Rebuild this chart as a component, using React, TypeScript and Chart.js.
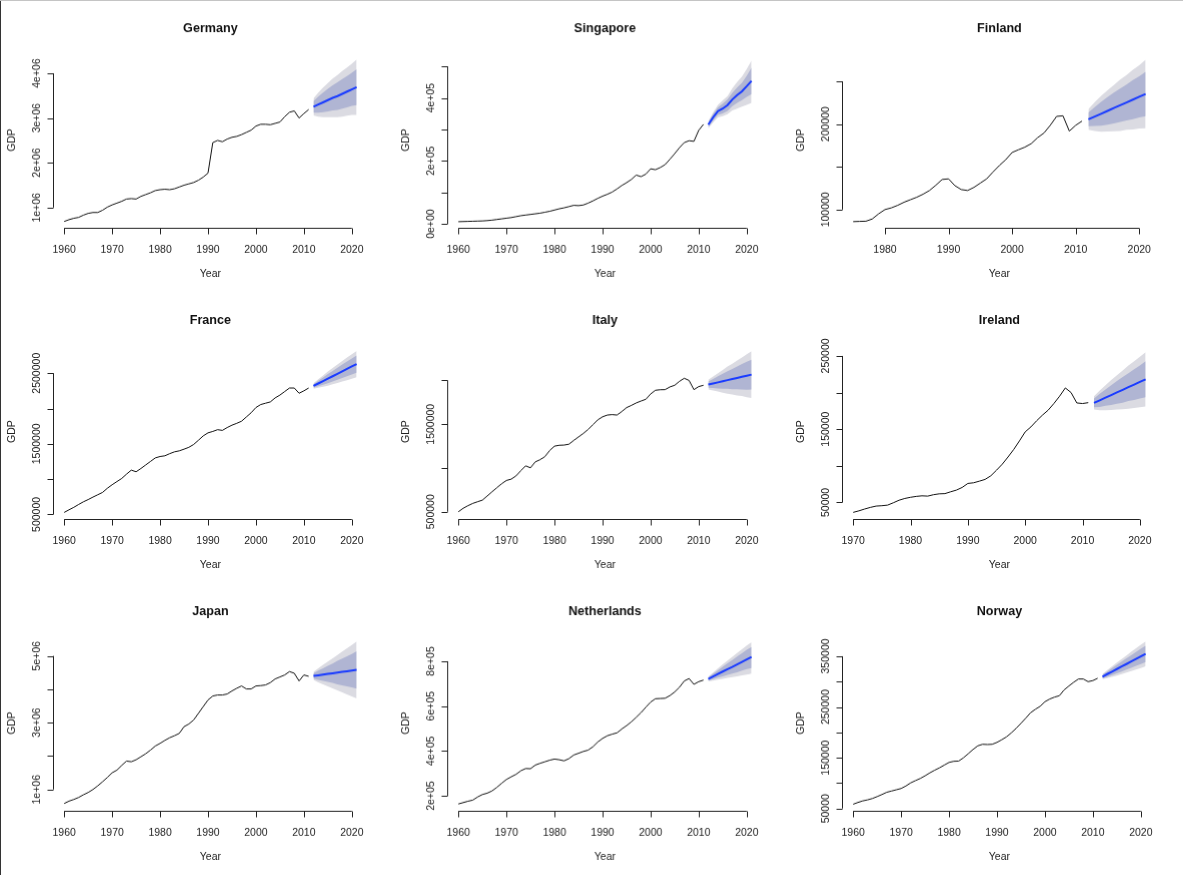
import { useEffect, useRef } from "react";
import { Chart, registerables } from "chart.js";
import type { ChartConfiguration, Plugin } from "chart.js";

Chart.register(...registerables);

// years
const YEARS = [
  1960, 1961, 1962, 1963, 1964, 1965, 1966, 1967, 1968, 1969,
  1970, 1971, 1972, 1973, 1974, 1975, 1976, 1977, 1978, 1979,
  1980, 1981, 1982, 1983, 1984, 1985, 1986, 1987, 1988, 1989,
  1990, 1991, 1992, 1993, 1994, 1995, 1996, 1997, 1998, 1999,
  2000, 2001, 2002, 2003, 2004, 2005, 2006, 2007, 2008, 2009,
  2010, 2011,
];
const YEARS_1970 = YEARS.slice(10);
const YEARS_1975 = YEARS.slice(15);
const FC_YEARS = [2012, 2013, 2014, 2015, 2016, 2017, 2018, 2019, 2020, 2021];

const X_TICKS_1960 = [1960, 1970, 1980, 1990, 2000, 2010, 2020];
const X_TICKS_1970 = [1970, 1980, 1990, 2000, 2010, 2020];
const X_TICKS_1980 = [1980, 1990, 2000, 2010, 2020];

// Germany
const germanyGdp = [
  690000, 730000, 760000, 780000, 830000, 870000, 890000, 890000, 940000, 1010000,
  1060000, 1100000, 1140000, 1190000, 1200000, 1190000, 1250000, 1290000, 1330000, 1380000,
  1400000, 1410000, 1400000, 1420000, 1460000, 1500000, 1530000, 1560000, 1610000, 1680000,
  1770000, 2450000, 2500000, 2470000, 2530000, 2570000, 2590000, 2630000, 2680000, 2730000,
  2820000, 2860000, 2860000, 2850000, 2880000, 2910000, 3030000, 3130000, 3160000, 3000000,
  3100000, 3190000,
];
const germanyMean = [3250000, 3300000, 3350000, 3400000, 3450000, 3490000, 3540000, 3590000, 3640000, 3690000];
const germanyLo80 = [3120000, 3120000, 3130000, 3150000, 3170000, 3180000, 3210000, 3240000, 3270000, 3290000];
const germanyHi80 = [3380000, 3480000, 3570000, 3650000, 3730000, 3800000, 3870000, 3940000, 4010000, 4090000];
const germanyLo95 = [3060000, 3030000, 3020000, 3020000, 3020000, 3020000, 3030000, 3050000, 3070000, 3070000];
const germanyHi95 = [3440000, 3570000, 3680000, 3780000, 3880000, 3960000, 4050000, 4130000, 4210000, 4310000];
const germanyYTicks = [1000000, 2000000, 3000000, 4000000];
const germanyYLabels = ["1e+06", "2e+06", "3e+06", "4e+06"];

// Singapore
const singaporeGdp = [
  7000, 7500, 8000, 8500, 9000, 9500, 10500, 12000, 14000, 16000,
  18000, 20000, 23000, 26000, 28000, 30000, 32000, 34000, 37000, 40000,
  44000, 48000, 51000, 55000, 59000, 58000, 60000, 66000, 73000, 81000,
  88000, 94000, 101000, 111000, 122000, 131000, 141000, 155000, 150000, 158000,
  175000, 172000, 179000, 188000, 205000, 223000, 242000, 258000, 264000, 262000,
  297000, 316000,
];
const singaporeMean = [315000, 338000, 358000, 366000, 377000, 395000, 409000, 421000, 437000, 454000];
const singaporeLo80 = [308000, 328000, 346000, 351000, 359000, 374000, 384000, 393000, 403000, 412000];
const singaporeHi80 = [322000, 348000, 370000, 382000, 395000, 416000, 433000, 448000, 470000, 496000];
const singaporeLo95 = [303000, 322000, 338000, 342000, 348000, 360000, 366000, 372000, 378000, 384000];
const singaporeHi95 = [326000, 354000, 378000, 392000, 406000, 430000, 450000, 468000, 492000, 519000];
const singaporeYTicks = [0, 100000, 200000, 300000, 400000, 500000];
const singaporeYLabels = ["0e+00", "", "2e+05", "", "4e+05", ""];

// Finland
const finlandGdp = [
  85900, 86200, 86400, 89000, 95000,
  100000, 102000, 105000, 108600, 111500, 114400, 118000, 122300, 128500, 135200,
  135900, 128000, 123400, 122300, 126000, 131000, 135900, 144000, 151600, 158300,
  166800, 170000, 173000, 177000, 184000, 189500, 198500, 209000, 209700, 191800,
  198500, 203500,
];
const finlandMean = [205500, 208800, 212100, 215400, 218700, 222000, 225300, 228600, 231900, 235200];
const finlandLo80 = [197500, 197800, 198100, 199400, 200700, 202500, 204300, 205600, 207900, 209200];
const finlandHi80 = [213500, 219800, 226100, 231400, 236700, 241500, 246300, 251600, 255900, 261200];
const finlandLo95 = [193500, 191800, 191100, 191400, 191700, 192000, 193300, 193600, 194900, 195200];
const finlandHi95 = [217500, 225800, 233100, 239400, 245700, 252000, 257300, 263600, 268900, 275200];
const finlandYTicks = [100000, 150000, 200000, 250000];
const finlandYLabels = ["100000", "", "200000", ""];

// France
const franceGdp = [
  528000, 565000, 600000, 640000, 678000, 710000, 745000, 778000, 811000, 870000,
  920000, 965000, 1009000, 1070000, 1127000, 1104000, 1150000, 1200000, 1250000, 1300000,
  1320000, 1330000, 1360000, 1386000, 1400000, 1424000, 1450000, 1490000, 1550000, 1612000,
  1655000, 1675000, 1700000, 1690000, 1730000, 1764000, 1790000, 1820000, 1880000, 1940000,
  2014000, 2056000, 2075000, 2093000, 2150000, 2190000, 2240000, 2290000, 2290000, 2216000,
  2250000, 2290000,
];
const franceMean = [2319000, 2354000, 2388000, 2423000, 2457000, 2492000, 2527000, 2561000, 2596000, 2630000];
const franceLo80 = [2293000, 2314000, 2336000, 2358000, 2382000, 2407000, 2432000, 2457000, 2483000, 2508000];
const franceHi80 = [2345000, 2394000, 2440000, 2488000, 2532000, 2577000, 2622000, 2665000, 2709000, 2752000];
const franceLo95 = [2279000, 2294000, 2308000, 2323000, 2342000, 2362000, 2382000, 2401000, 2423000, 2444000];
const franceHi95 = [2359000, 2414000, 2468000, 2523000, 2572000, 2622000, 2672000, 2721000, 2769000, 2816000];
const franceYTicks = [500000, 1000000, 1500000, 2000000, 2500000];
const franceYLabels = ["500000", "", "1500000", "", "2500000"];

// Italy
const italyGdp = [
  500000, 540000, 570000, 596000, 615000, 633000, 680000, 728000, 775000, 820000,
  858000, 873000, 910000, 970000, 1025000, 1002000, 1070000, 1095000, 1130000, 1200000,
  1250000, 1260000, 1262000, 1272000, 1315000, 1355000, 1395000, 1440000, 1495000, 1550000,
  1585000, 1605000, 1610000, 1605000, 1645000, 1690000, 1715000, 1743000, 1765000, 1785000,
  1846000, 1888000, 1894000, 1895000, 1926000, 1945000, 1990000, 2025000, 2000000, 1895000,
  1930000, 1945000,
];
const italyMean = [1953000, 1966000, 1978000, 1991000, 2004000, 2016000, 2029000, 2042000, 2054000, 2067000];
const italyLo80 = [1917000, 1914000, 1909000, 1906000, 1904000, 1901000, 1899000, 1897000, 1894000, 1896000];
const italyHi80 = [1989000, 2018000, 2047000, 2076000, 2104000, 2131000, 2159000, 2187000, 2214000, 2238000];
const italyLo95 = [1898000, 1886000, 1873000, 1861000, 1849000, 1841000, 1829000, 1822000, 1809000, 1800000];
const italyHi95 = [2008000, 2046000, 2083000, 2121000, 2159000, 2191000, 2229000, 2262000, 2299000, 2334000];
const italyYTicks = [500000, 1000000, 1500000, 2000000];
const italyYLabels = ["500000", "", "1500000", ""];

// Ireland
const irelandGdp = [
  36400, 38500, 41000, 43200, 45000, 45500, 46300, 49500, 53000, 55400,
  57000, 58200, 59000, 58600, 60500, 61700, 62000, 64500, 66800, 70400,
  75900, 76800, 79000, 81400, 86300, 94000, 102200, 112000, 122300, 134000,
  146300, 153100, 161500, 169100, 175900, 185000, 195000, 206300, 200000, 185800,
  185000, 186200,
];
const irelandMean = [185800, 189400, 193000, 196600, 200200, 203700, 207300, 210900, 214500, 218100];
const irelandLo80 = [179800, 180400, 182000, 183100, 184700, 186200, 188300, 189900, 192000, 193600];
const irelandHi80 = [191800, 198400, 204000, 210100, 215700, 221200, 226300, 231900, 237000, 242600];
const irelandLo95 = [176800, 175900, 176000, 176100, 176700, 177200, 177800, 178900, 180000, 181100];
const irelandHi95 = [194800, 202900, 210000, 217100, 223700, 230200, 236800, 242900, 249000, 255100];
const irelandYTicks = [50000, 100000, 150000, 200000, 250000];
const irelandYLabels = ["50000", "", "150000", "", "250000"];

// Japan
const japanGdp = [
  580000, 650000, 700000, 760000, 840000, 910000, 1000000, 1110000, 1230000, 1360000,
  1500000, 1580000, 1720000, 1850000, 1830000, 1890000, 1980000, 2070000, 2180000, 2300000,
  2380000, 2470000, 2550000, 2610000, 2680000, 2880000, 2960000, 3080000, 3280000, 3480000,
  3680000, 3800000, 3830000, 3830000, 3860000, 3950000, 4030000, 4100000, 4010000, 4010000,
  4100000, 4110000, 4130000, 4200000, 4310000, 4370000, 4430000, 4530000, 4480000, 4250000,
  4430000, 4390000,
];
const japanMean = [4400000, 4420000, 4440000, 4460000, 4480000, 4500000, 4520000, 4540000, 4560000, 4580000];
const japanLo80 = [4320000, 4280000, 4250000, 4220000, 4190000, 4150000, 4120000, 4090000, 4060000, 4020000];
const japanHi80 = [4480000, 4560000, 4630000, 4700000, 4770000, 4850000, 4920000, 4990000, 5060000, 5140000];
const japanLo95 = [4280000, 4210000, 4150000, 4090000, 4030000, 3970000, 3910000, 3850000, 3790000, 3730000];
const japanHi95 = [4520000, 4630000, 4730000, 4830000, 4930000, 5030000, 5130000, 5230000, 5330000, 5430000];
const japanYTicks = [1000000, 2000000, 3000000, 4000000, 5000000];
const japanYLabels = ["1e+06", "", "3e+06", "", "5e+06"];

// Netherlands
const netherlandsGdp = [
  164000, 170000, 176000, 181000, 195000, 206000, 212000, 222000, 238000, 256000,
  273000, 285000, 296000, 312000, 322000, 321000, 337000, 345000, 352000, 359000,
  364000, 361000, 356000, 366000, 382000, 390000, 398000, 404000, 419000, 440000,
  456000, 468000, 475000, 481000, 498000, 513000, 530000, 550000, 571000, 595000,
  618000, 633000, 634000, 635000, 647000, 663000, 684000, 712000, 723000, 697000,
  709000, 716000,
];
const netherlandsMean = [721000, 732000, 743000, 754000, 765000, 775000, 786000, 797000, 808000, 819000];
const netherlandsLo80 = [714000, 720000, 727000, 733000, 739000, 745000, 751000, 758000, 765000, 770000];
const netherlandsHi80 = [728000, 744000, 759000, 775000, 791000, 805000, 821000, 836000, 851000, 864000];
const netherlandsLo95 = [710000, 714000, 718000, 722000, 726000, 729000, 733000, 737000, 741000, 745000];
const netherlandsHi95 = [732000, 750000, 768000, 786000, 803000, 820000, 837000, 854000, 870000, 885000];
const netherlandsYTicks = [200000, 400000, 600000, 800000];
const netherlandsYLabels = ["2e+05", "4e+05", "6e+05", "8e+05"];

// Norway
const norwayGdp = [
  58500, 62000, 65000, 67000, 69700, 73500, 77600, 82000, 84500, 87000,
  89500, 94500, 100500, 105000, 109200, 114500, 120300, 125500, 130200, 135500,
  140800, 143000, 143400, 149900, 158000, 166400, 173500, 176500, 176000, 176500,
  180300, 185500, 191300, 199200, 208000, 217800, 228000, 238700, 245400, 251300,
  260400, 265700, 269500, 272200, 283500, 291400, 298700, 305200, 305200, 299900,
  302000, 306600,
];
const norwayMean = [309800, 314800, 319700, 324700, 329700, 334600, 339600, 344600, 349500, 354500];
const norwayLo80 = [306500, 309600, 312800, 316200, 319900, 323500, 327200, 330900, 334500, 338500];
const norwayHi80 = [313100, 320000, 326600, 333200, 339500, 345700, 352000, 358300, 364500, 370500];
const norwayLo95 = [304800, 306800, 309200, 311700, 314700, 317600, 320600, 323600, 326500, 329900];
const norwayHi95 = [314800, 322800, 330200, 337700, 344700, 351600, 358600, 365600, 372500, 379100];
const norwayYTicks = [50000, 100000, 150000, 200000, 250000, 300000, 350000];
const norwayYLabels = ["50000", "", "150000", "", "250000", "", "350000"];

const FONT = '"Liberation Sans", Arial, Helvetica, sans-serif';
const SHADE_95 = "#dbdbe2";
const SHADE_80 = "#b0b5d3";
const MEAN_COLOR = "#1a3cff";
const INK = "#222222";
const LINE = "#111111";

type Panel = {
  title: string;
  years: number[];
  gdp: number[];
  mean: number[];
  lo80: number[];
  hi80: number[];
  lo95: number[];
  hi95: number[];
  xTicks: number[];
  xMin: number;
  xMax: number;
  yTicks: number[];
  yLabels: string[];
  yMin: number;
  yMax: number;
};

const panels: Panel[] = [
  { title: "Germany", years: YEARS, gdp: germanyGdp, mean: germanyMean, lo80: germanyLo80, hi80: germanyHi80, lo95: germanyLo95, hi95: germanyHi95, xTicks: X_TICKS_1960, xMin: 1957.56, xMax: 2023.44, yTicks: germanyYTicks, yLabels: germanyYLabels, yMin: 539000, yMax: 4477000 },
  { title: "Singapore", years: YEARS, gdp: singaporeGdp, mean: singaporeMean, lo80: singaporeLo80, hi80: singaporeHi80, lo95: singaporeLo95, hi95: singaporeHi95, xTicks: X_TICKS_1960, xMin: 1957.56, xMax: 2023.44, yTicks: singaporeYTicks, yLabels: singaporeYLabels, yMin: -13700, yMax: 546000 },
  { title: "Finland", years: YEARS_1975, gdp: finlandGdp, mean: finlandMean, lo80: finlandLo80, hi80: finlandHi80, lo95: finlandLo95, hi95: finlandHi95, xTicks: X_TICKS_1980, xMin: 1973.16, xMax: 2022.84, yTicks: finlandYTicks, yLabels: finlandYLabels, yMin: 78200, yMax: 284400 },
  { title: "France", years: YEARS, gdp: franceGdp, mean: franceMean, lo80: franceLo80, hi80: franceHi80, lo95: franceLo95, hi95: franceHi95, xTicks: X_TICKS_1960, xMin: 1957.56, xMax: 2023.44, yTicks: franceYTicks, yLabels: franceYLabels, yMin: 429000, yMax: 2918000 },
  { title: "Italy", years: YEARS, gdp: italyGdp, mean: italyMean, lo80: italyLo80, hi80: italyHi80, lo95: italyLo95, hi95: italyHi95, xTicks: X_TICKS_1960, xMin: 1957.56, xMax: 2023.44, yTicks: italyYTicks, yLabels: italyYLabels, yMin: 413000, yMax: 2420000 },
  { title: "Ireland", years: YEARS_1970, gdp: irelandGdp, mean: irelandMean, lo80: irelandLo80, hi80: irelandHi80, lo95: irelandLo95, hi95: irelandHi95, xTicks: X_TICKS_1970, xMin: 1967.96, xMax: 2023.04, yTicks: irelandYTicks, yLabels: irelandYLabels, yMin: 26800, yMax: 266700 },
  { title: "Japan", years: YEARS, gdp: japanGdp, mean: japanMean, lo80: japanLo80, hi80: japanHi80, lo95: japanLo95, hi95: japanHi95, xTicks: X_TICKS_1960, xMin: 1957.56, xMax: 2023.44, yTicks: japanYTicks, yLabels: japanYLabels, yMin: 352000, yMax: 5629000 },
  { title: "Netherlands", years: YEARS, gdp: netherlandsGdp, mean: netherlandsMean, lo80: netherlandsLo80, hi80: netherlandsHi80, lo95: netherlandsLo95, hi95: netherlandsHi95, xTicks: X_TICKS_1960, xMin: 1957.56, xMax: 2023.44, yTicks: netherlandsYTicks, yLabels: netherlandsYLabels, yMin: 132100, yMax: 917400 },
  { title: "Norway", years: YEARS, gdp: norwayGdp, mean: norwayMean, lo80: norwayLo80, hi80: norwayHi80, lo95: norwayLo95, hi95: norwayHi95, xTicks: X_TICKS_1960, xMin: 1957.56, xMax: 2023.44, yTicks: norwayYTicks, yLabels: norwayYLabels, yMin: 44900, yMax: 392000 },
];

const pts = (xs: number[], ys: number[]) => xs.map((x, i) => ({ x, y: ys[i] }));

// base-R style axes: line only from first to last tick, ticks outward, rotated y labels
function rAxes(p: Panel): Plugin<"line"> {
  return {
    id: "rAxes",
    afterDraw(chart) {
      const { ctx, chartArea: a } = chart;
      const xs = chart.scales.x;
      const ys = chart.scales.y;
      ctx.save();
      ctx.strokeStyle = INK;
      ctx.fillStyle = INK;
      ctx.lineWidth = 1;

      // x axis
      const by = Math.round(a.bottom) + 0.5;
      const xp = p.xTicks.map((t) => xs.getPixelForValue(t));
      ctx.beginPath();
      ctx.moveTo(xp[0], by);
      ctx.lineTo(xp[xp.length - 1], by);
      xp.forEach((px) => {
        ctx.moveTo(Math.round(px) + 0.5, by);
        ctx.lineTo(Math.round(px) + 0.5, by + 6);
      });
      ctx.stroke();
      ctx.font = `10.5px ${FONT}`;
      ctx.textAlign = "center";
      ctx.textBaseline = "alphabetic";
      p.xTicks.forEach((t, i) => ctx.fillText(String(t), xp[i], a.bottom + 24.5));
      ctx.fillText("Year", (a.left + a.right) / 2, a.bottom + 49);

      // y axis
      const lx = Math.round(a.left) + 0.5;
      const yp = p.yTicks.map((t) => ys.getPixelForValue(t));
      ctx.beginPath();
      ctx.moveTo(lx, yp[0]);
      ctx.lineTo(lx, yp[yp.length - 1]);
      yp.forEach((py) => {
        ctx.moveTo(lx, Math.round(py) + 0.5);
        ctx.lineTo(lx - 6, Math.round(py) + 0.5);
      });
      ctx.stroke();
      p.yLabels.forEach((lab, i) => {
        if (!lab) return;
        ctx.save();
        ctx.translate(a.left - 13, yp[i]);
        ctx.rotate(-Math.PI / 2);
        ctx.fillText(lab, 0, 0);
        ctx.restore();
      });
      ctx.save();
      ctx.translate(a.left - 37.5, (a.top + a.bottom) / 2);
      ctx.rotate(-Math.PI / 2);
      ctx.fillText("GDP", 0, 0);
      ctx.restore();

      // title
      ctx.fillStyle = "#111";
      ctx.font = `bold 12.6px ${FONT}`;
      ctx.fillText(p.title, (a.left + a.right) / 2, 31.5);
      ctx.restore();
    },
  };
}

function ForecastPanel({ p }: { p: Panel }) {
  const canvasRef = useRef<HTMLCanvasElement | null>(null);
  const chartRef = useRef<Chart<"line"> | null>(null);

  useEffect(() => {
    const ctx = canvasRef.current!.getContext("2d")!;
    const band = (data: number[], order: number, fill: number | false, color: string) => ({
      data: pts(FC_YEARS, data),
      borderWidth: 0,
      borderColor: "rgba(0,0,0,0)",
      backgroundColor: color,
      pointRadius: 0,
      fill,
      order,
      tension: 0,
    });

    const config: ChartConfiguration<"line", { x: number; y: number }[]> = {
      type: "line",
      data: {
        datasets: [
          band(p.lo95, 5, false, SHADE_95) as any,
          band(p.hi95, 4, 0, SHADE_95) as any,
          band(p.lo80, 3, false, SHADE_80) as any,
          band(p.hi80, 2, 2, SHADE_80) as any,
          {
            data: pts(FC_YEARS, p.mean),
            borderColor: MEAN_COLOR,
            borderWidth: 2,
            pointRadius: 0,
            fill: false,
            order: 1,
          },
          {
            data: pts(p.years, p.gdp),
            borderColor: LINE,
            borderWidth: 1,
            pointRadius: 0,
            fill: false,
            order: 0,
          },
        ],
      },
      options: {
        animation: false,
        responsive: true,
        maintainAspectRatio: false,
        events: [],
        layout: { padding: { left: 52.5, right: 26, top: 51.7, bottom: 64.3 } },
        scales: {
          x: { type: "linear", display: false, min: p.xMin, max: p.xMax },
          y: { type: "linear", display: false, min: p.yMin, max: p.yMax },
        },
        plugins: {
          legend: { display: false },
          tooltip: { enabled: false },
        },
      },
      plugins: [rAxes(p)],
    };

    chartRef.current = new Chart(ctx, config);
    return () => chartRef.current?.destroy();
  }, [p]);

  return (
    <div style={{ position: "relative", width: "100%", height: "100%" }}>
      <canvas ref={canvasRef} />
    </div>
  );
}

export default function App() {
  return (
    <div
      style={{
        position: "absolute",
        left: 0,
        top: 0,
        width: 1183,
        height: 875,
        background: "#fff",
        display: "grid",
        gridTemplateColumns: "repeat(3, 1fr)",
        gridTemplateRows: "repeat(3, 1fr)",
        boxShadow: "inset 0 1px 0 #c4c4c4, inset 1px 0 0 #333",
      }}
    >
      {panels.map((p) => (
        <ForecastPanel key={p.title} p={p} />
      ))}
    </div>
  );
}
